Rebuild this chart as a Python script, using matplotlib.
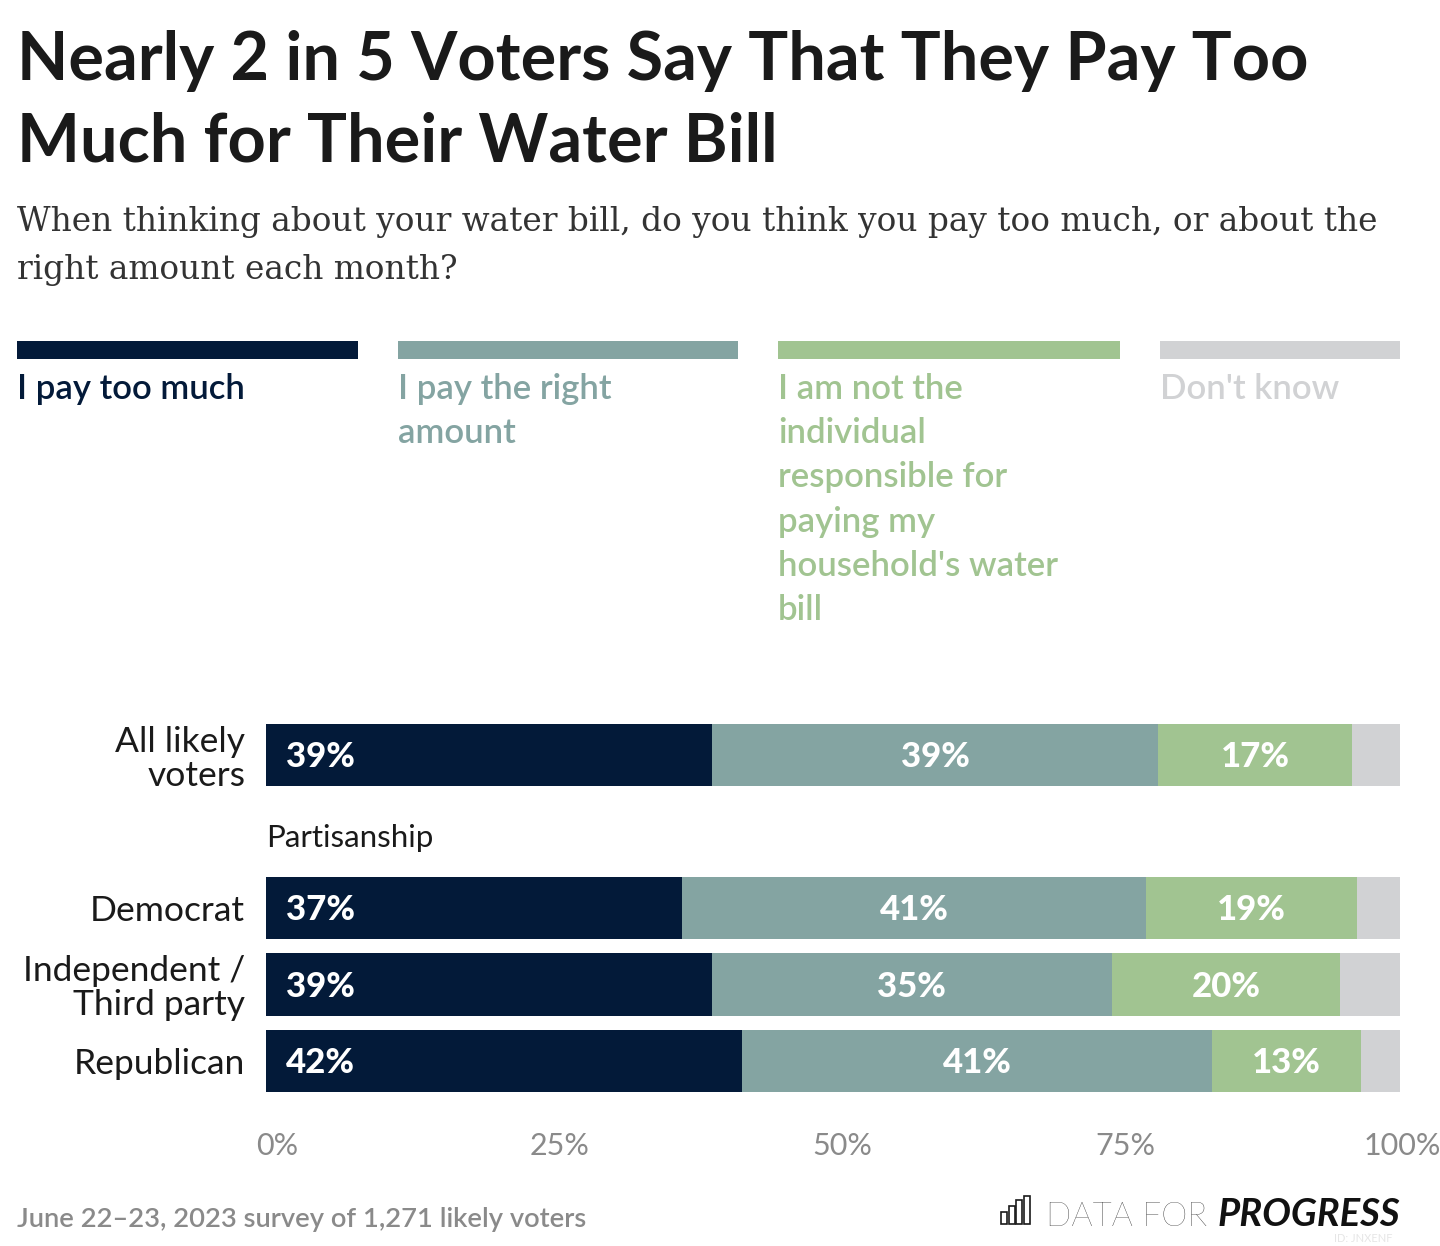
import matplotlib
matplotlib.use("Agg")
import matplotlib.pyplot as plt
import matplotlib.transforms as mtrans
from matplotlib.patches import Rectangle

# ---------------------------------------------------------------------------
# Data
# ---------------------------------------------------------------------------
groups = ["All likely\nvoters", "Democrat", "Independent /\nThird party", "Republican"]
rows = [0, 2, 3, 4]              # row 1 is the "Partisanship" header
answers = ["I pay too much", "I pay the right\namount",
           "I am not the\nindividual\nresponsible for\npaying my\nhousehold's water\nbill",
           "Don't know"]
too_much = [39.3, 36.7, 39.3, 42.0]
right_amount = [39.4, 40.9, 35.3, 41.4]
not_responsible = [17.1, 18.6, 20.1, 13.2]
dont_know = [4.2, 3.8, 5.3, 3.4]
series = [too_much, right_amount, not_responsible, dont_know]
colors = ["#031a39", "#84a4a2", "#a1c491", "#d1d2d4"]
show_label = [True, True, True, False]
xticks = [0, 25, 50, 75, 100]

SANS = "Lato"
W, H = 1440, 1246


def fx(px):
    return px / W


def fy(py):
    return 1 - py / H


fig = plt.figure(figsize=(W / 100, H / 100), dpi=100, facecolor="white")

# ── Title & subtitle ───────────────────────────────────────────────────────
fig.text(fx(17), fy(80), "Nearly 2 in 5 Voters Say That They Pay Too",
         family=SANS, weight="bold", fontsize=48, color="#1a1a1a", va="baseline")
fig.text(fx(17), fy(162), "Much for Their Water Bill",
         family=SANS, weight="bold", fontsize=48, color="#1a1a1a", va="baseline")
fig.text(fx(17), fy(231),
         "When thinking about your water bill, do you think you pay too much, or about the",
         family="DejaVu Serif", fontsize=23.6, color="#333333", va="baseline")
fig.text(fx(17), fy(279), "right amount each month?",
         family="DejaVu Serif", fontsize=23.6, color="#333333", va="baseline")

# ── Legend ─────────────────────────────────────────────────────────────────
leg_x = [(17, 358), (398, 738), (778, 1120), (1160, 1400)]
for (x0, x1), lab, col in zip(leg_x, answers, colors):
    fig.add_artist(Rectangle((fx(x0), fy(359)), fx(x1 - x0), 18 / H,
                             transform=fig.transFigure, color=col, lw=0))
    fig.text(fx(x0), fy(373), lab, family=SANS, weight="semibold", fontsize=25,
             color=col, va="top", linespacing=1.47, ha="left",
             multialignment="left")

# ── Bars ───────────────────────────────────────────────────────────────────
ax = fig.add_axes([fx(266), fy(1099), fx(1400 - 266), 382 / H])
left = [0.0] * len(rows)
for vals, col, lab_on in zip(series, colors, show_label):
    ax.barh(rows, vals, left=left, height=62 / 76, color=col, lw=0)
    if lab_on:
        for r, l, v in zip(rows, left, vals):
            if l == 0:
                ax.text(1.8, r + 0.03, f"{round(v)}%", ha="left", va="center",
                        family=SANS, weight="black", fontsize=25, color="white")
            else:
                ax.text(l + v / 2, r + 0.03, f"{round(v)}%", ha="center",
                        va="center", family=SANS, weight="black", fontsize=25,
                        color="white")
    left = [a + b for a, b in zip(left, vals)]

ax.text(0, 1.09, "Partisanship", ha="left", va="center", family=SANS,
        fontsize=22.5, color="#1a1a1a")

ax.set_xlim(0, 100)
ax.set_ylim(4.5, -0.5)
ax.set_yticks(rows)
ax.set_yticklabels(groups, family=SANS, fontsize=25.5, color="#1a1a1a",
                   linespacing=1.05)
ax.set_xticks(xticks)
ax.set_xticklabels([f"{t}%" for t in xticks], family=SANS, fontsize=22,
                   color="#8a8a8a")
ax.tick_params(axis="y", length=0, pad=15)
ax.tick_params(axis="x", length=0, pad=24)
for lab, dx in zip(ax.get_xticklabels(), [11, 10, 9, 9, 2]):
    lab.set_transform(lab.get_transform() +
                      mtrans.ScaledTranslation(dx / 100, 0, fig.dpi_scale_trans))
for s in ax.spines.values():
    s.set_visible(False)

# ── Footer ─────────────────────────────────────────────────────────────────
fig.text(fx(17), fy(1227), "June 22\u201323, 2023 survey of 1,271 likely voters",
         family=SANS, weight="semibold", fontsize=19.7, color="#8a8a8a",
         va="baseline")

# logo icon: four small outlined bars
for i, hgt in enumerate([12, 18, 24, 28]):
    fig.add_artist(Rectangle((fx(1001 + i * 7.5), fy(1224)), fx(6), hgt / H,
                             transform=fig.transFigure, fill=False,
                             ec="#1a1a1a", lw=1.2))
fig.text(fx(1046), fy(1226), "DATA FOR", family=SANS, weight="light",
         fontsize=24, color="#1a1a1a", va="baseline")
fig.text(fx(1400), fy(1226), "PROGRESS", family=SANS, weight="bold",
         style="italic", fontsize=27.5, color="#111111", va="baseline", ha="right")
fig.text(fx(1392), fy(1242), "ID: JNXENF", family=SANS, fontsize=8,
         color="#e6e6e6", va="baseline", ha="right")

fig.savefig("out.png", dpi=100, facecolor="white")
